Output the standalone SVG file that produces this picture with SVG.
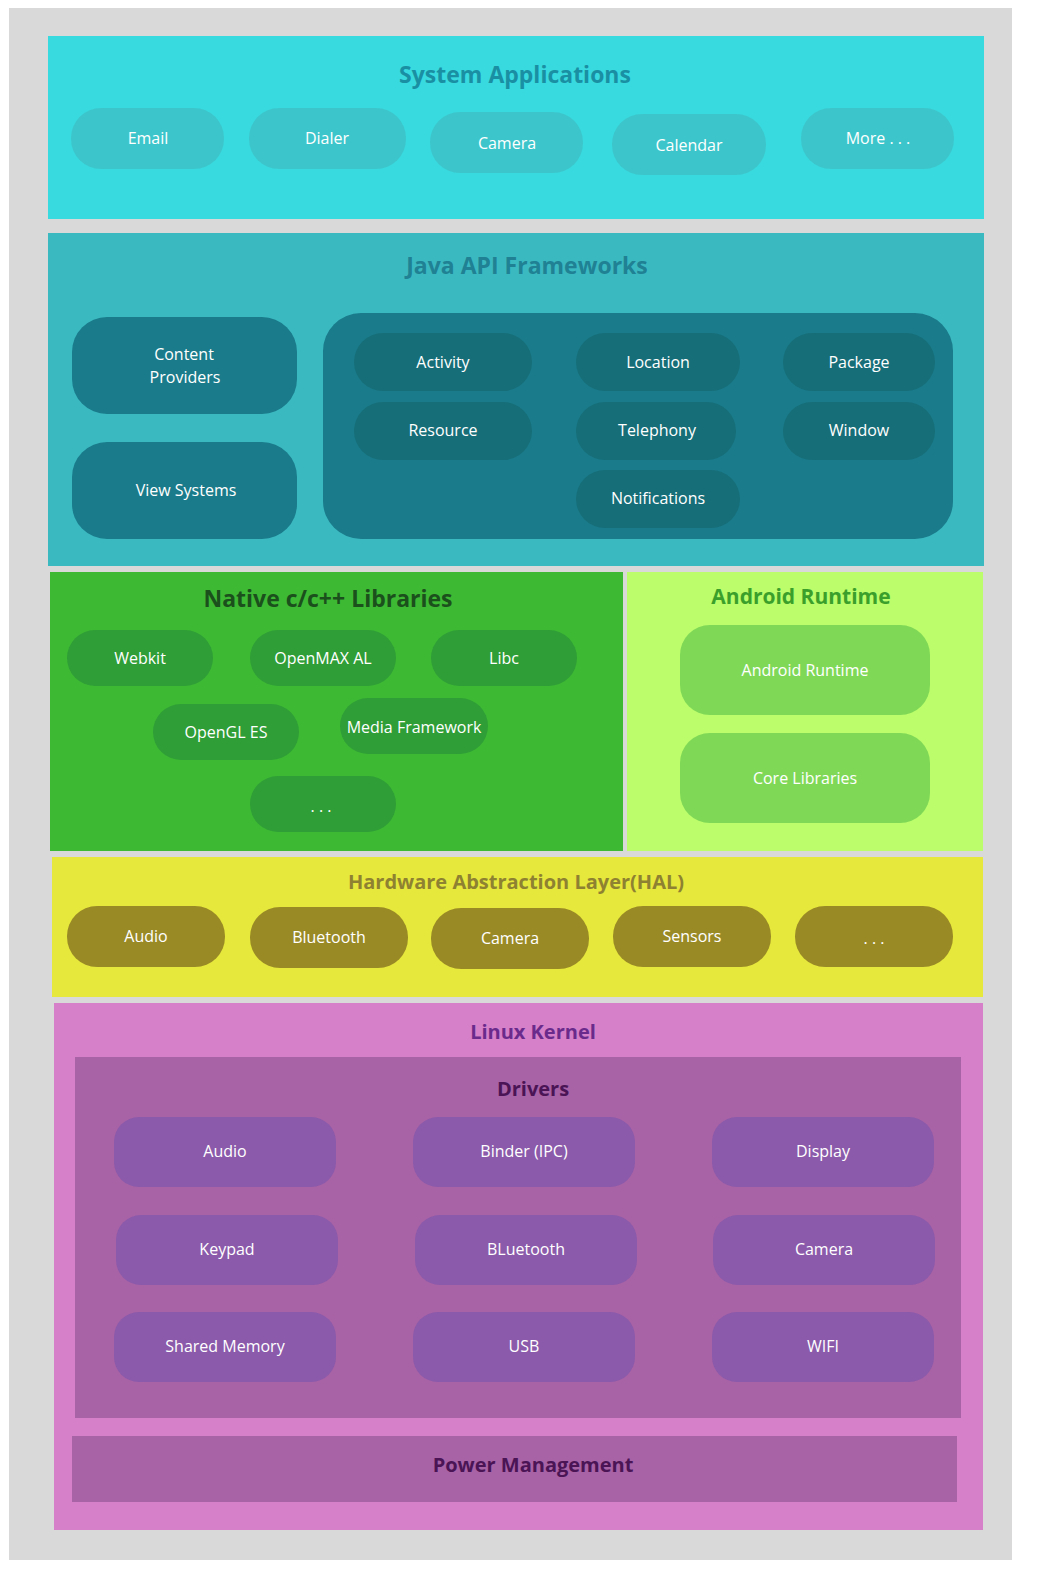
<svg xmlns="http://www.w3.org/2000/svg" width="1042" height="1595" viewBox="0 0 1042 1595">
<style>
text{font-family:"Open Sans","Liberation Sans",sans-serif;text-anchor:middle;dominant-baseline:central}
.t{font-size:23px;font-weight:bold}
.l{font-size:16px;fill:#fff}
.sa{fill:#3cc6cb}.ja{fill:#166e78}.nl{fill:#2f9e36}.ar{fill:#7fd957}.hl{fill:#9a8a26}.dr{fill:#8b5aaa}
</style>
<rect width="1042" height="1595" fill="#fff"/>
<rect x="9" y="8" width="1003" height="1552" fill="#d9d9d9"/>
<g id="system-applications">
<rect x="48" y="36" width="936" height="183" fill="#38dadf"/>
<text class="t" x="515" y="74" fill="#1a8fa3">System Applications</text>
<rect class="sa" x="71" y="108" width="153" height="61" rx="30"/><text class="l" x="148" y="138">Email</text>
<rect class="sa" x="249" y="108" width="157" height="61" rx="30"/><text class="l" x="327" y="138">Dialer</text>
<rect class="sa" x="430" y="112" width="153" height="61" rx="30"/><text class="l" x="507" y="143">Camera</text>
<rect class="sa" x="612" y="114" width="154" height="61" rx="30"/><text class="l" x="689" y="145">Calendar</text>
<rect class="sa" x="801" y="108" width="153" height="61" rx="30"/><text class="l" x="878" y="138">More . . .</text>
</g>
<g id="java-api">
<rect x="48" y="233" width="936" height="333" fill="#3bb9c1"/>
<text class="t" x="527" y="265" fill="#1f8193">Java API Frameworks</text>
<rect x="72" y="317" width="225" height="97" rx="35" fill="#1a7b8a"/><text class="l" x="184" y="354">Content</text><text class="l" x="185" y="377">Providers</text>
<rect x="72" y="442" width="225" height="97" rx="35" fill="#1a7b8a"/><text class="l" x="186" y="490">View Systems</text>
<rect x="323" y="313" width="630" height="226" rx="38" fill="#1a7b8a"/>
<rect class="ja" x="354" y="333" width="178" height="58" rx="29"/><text class="l" x="443" y="362">Activity</text>
<rect class="ja" x="576" y="333" width="164" height="58" rx="29"/><text class="l" x="658" y="362">Location</text>
<rect class="ja" x="783" y="333" width="152" height="58" rx="29"/><text class="l" x="859" y="362">Package</text>
<rect class="ja" x="354" y="402" width="178" height="58" rx="29"/><text class="l" x="443" y="430">Resource</text>
<rect class="ja" x="576" y="402" width="160" height="58" rx="29"/><text class="l" x="657" y="430">Telephony</text>
<rect class="ja" x="783" y="402" width="152" height="58" rx="29"/><text class="l" x="859" y="430">Window</text>
<rect class="ja" x="576" y="470" width="164" height="58" rx="29"/><text class="l" x="658" y="498">Notifications</text>
</g>
<g id="native-libs">
<rect x="50" y="572" width="573" height="279" fill="#3db934"/>
<text class="t" x="328" y="598" fill="#1b4f1c">Native c/c++ Libraries</text>
<rect class="nl" x="67" y="630" width="146" height="56" rx="28"/><text class="l" x="140" y="658">Webkit</text>
<rect class="nl" x="250" y="630" width="146" height="56" rx="28"/><text class="l" x="323" y="658">OpenMAX AL</text>
<rect class="nl" x="431" y="630" width="146" height="56" rx="28"/><text class="l" x="504" y="658">Libc</text>
<rect class="nl" x="153" y="704" width="146" height="56" rx="28"/><text class="l" x="226" y="732">OpenGL ES</text>
<rect class="nl" x="340" y="698" width="148" height="56" rx="28"/><text class="l" x="414" y="727">Media Framework</text>
<rect class="nl" x="250" y="776" width="146" height="56" rx="28"/><text class="l" x="321" y="806">. . .</text>
</g>
<g id="android-runtime">
<rect x="627" y="572" width="356" height="279" fill="#bbfd6a"/>
<text class="t" x="801" y="596" fill="#3aa02b" style="font-size:21px">Android Runtime</text>
<rect class="ar" x="680" y="625" width="250" height="90" rx="30"/><text class="l" x="805" y="670">Android Runtime</text>
<rect class="ar" x="680" y="733" width="250" height="90" rx="30"/><text class="l" x="805" y="778">Core Libraries</text>
</g>
<g id="hal">
<rect x="52" y="857" width="931" height="140" fill="#e6e83b"/>
<text class="t" x="516" y="881" fill="#8e8131" style="font-size:20px">Hardware Abstraction Layer(HAL)</text>
<rect class="hl" x="67" y="906" width="158" height="61" rx="30"/><text class="l" x="146" y="936">Audio</text>
<rect class="hl" x="250" y="907" width="158" height="61" rx="30"/><text class="l" x="329" y="937">Bluetooth</text>
<rect class="hl" x="431" y="908" width="158" height="61" rx="30"/><text class="l" x="510" y="938">Camera</text>
<rect class="hl" x="613" y="906" width="158" height="61" rx="30"/><text class="l" x="692" y="936">Sensors</text>
<rect class="hl" x="795" y="906" width="158" height="61" rx="30"/><text class="l" x="874" y="938">. . .</text>
</g>
<g id="linux-kernel">
<rect x="54" y="1003" width="929" height="527" fill="#d580c8"/>
<text class="t" x="533" y="1031" fill="#6a2a8c" style="font-size:20px">Linux Kernel</text>
<rect x="75" y="1057" width="886" height="361" fill="#a862a6"/>
<text class="t" x="533" y="1088" fill="#4a1455" style="font-size:20px">Drivers</text>
<rect class="dr" x="114" y="1117" width="222" height="70" rx="25"/><text class="l" x="225" y="1151">Audio</text>
<rect class="dr" x="413" y="1117" width="222" height="70" rx="25"/><text class="l" x="524" y="1151">Binder (IPC)</text>
<rect class="dr" x="712" y="1117" width="222" height="70" rx="25"/><text class="l" x="823" y="1151">Display</text>
<rect class="dr" x="116" y="1215" width="222" height="70" rx="25"/><text class="l" x="227" y="1249">Keypad</text>
<rect class="dr" x="415" y="1215" width="222" height="70" rx="25"/><text class="l" x="526" y="1249">BLuetooth</text>
<rect class="dr" x="713" y="1215" width="222" height="70" rx="25"/><text class="l" x="824" y="1249">Camera</text>
<rect class="dr" x="114" y="1312" width="222" height="70" rx="25"/><text class="l" x="225" y="1346">Shared Memory</text>
<rect class="dr" x="413" y="1312" width="222" height="70" rx="25"/><text class="l" x="524" y="1346">USB</text>
<rect class="dr" x="712" y="1312" width="222" height="70" rx="25"/><text class="l" x="823" y="1346">WIFI</text>
<rect x="72" y="1436" width="885" height="66" fill="#a862a6"/>
<text class="t" x="533" y="1464" fill="#4a1455" style="font-size:20px">Power Management</text>
</g>
<g id="connectors"/>
</svg>
